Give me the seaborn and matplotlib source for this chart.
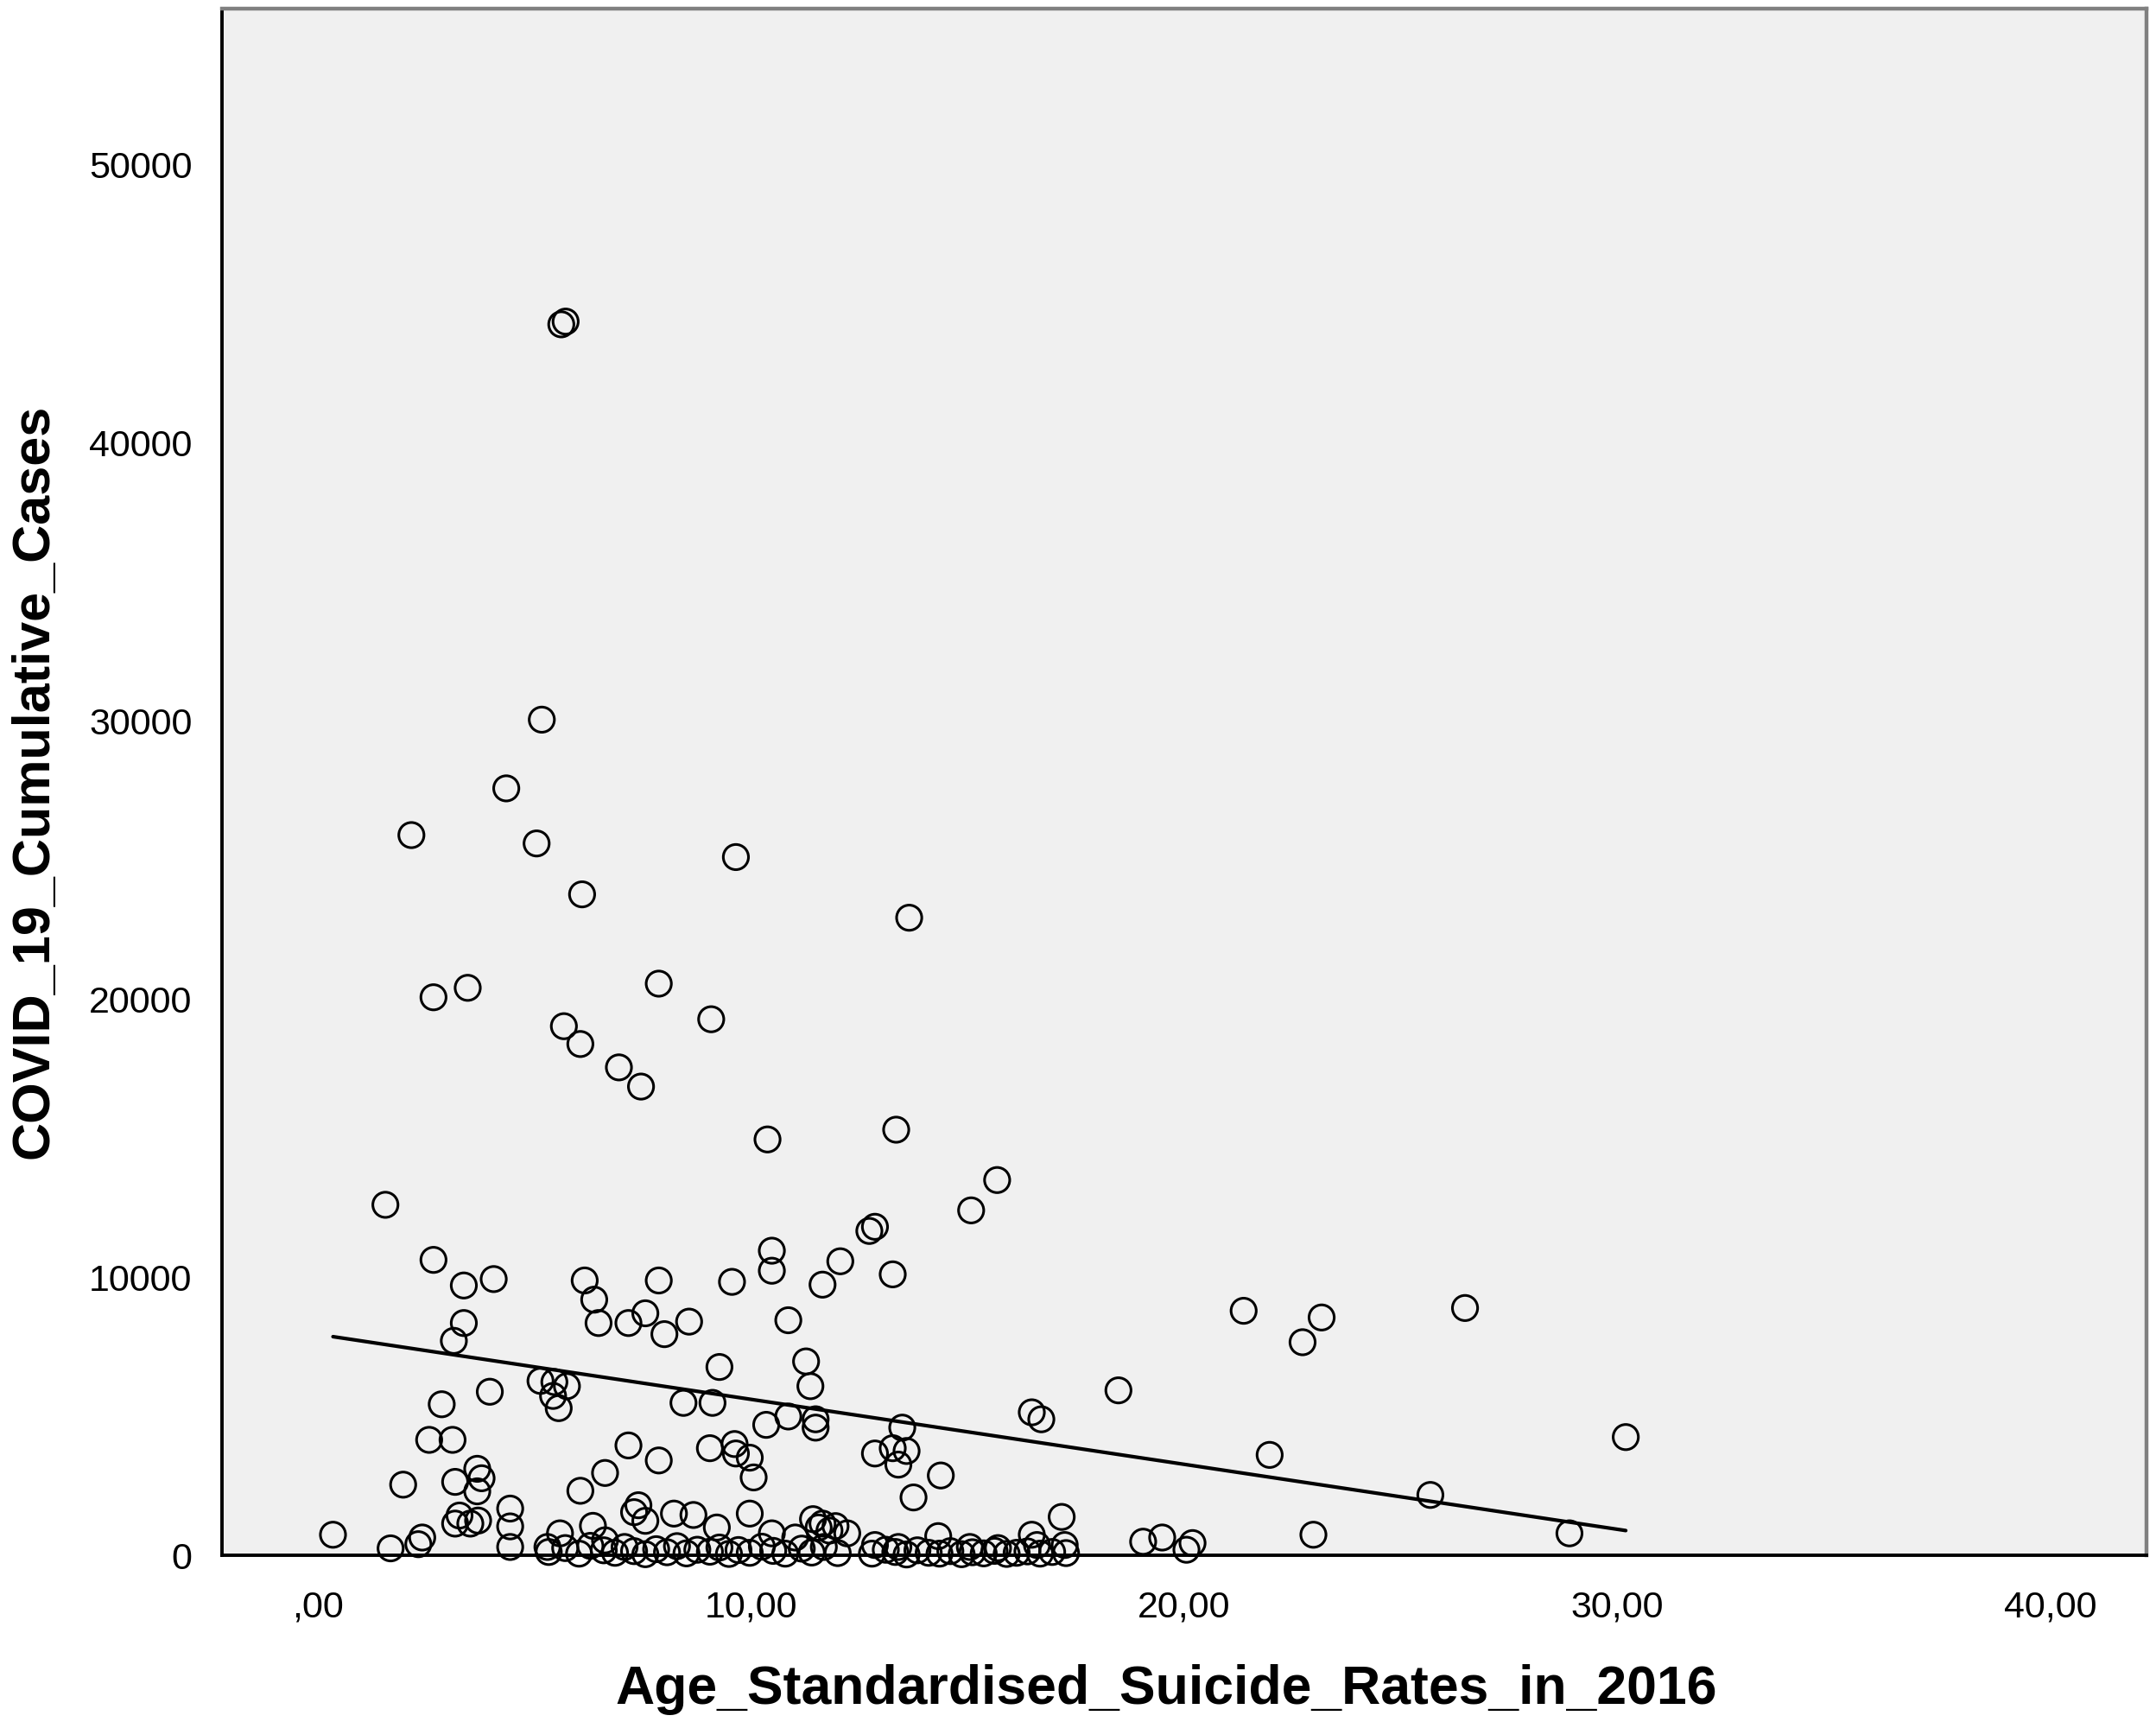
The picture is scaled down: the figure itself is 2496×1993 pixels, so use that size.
import numpy as np
import pandas as pd
import seaborn as sns
import matplotlib.pyplot as plt

# -----------------------------
# DATA
# -----------------------------
# countries spread above the floor
rate_upper = [5.62, 5.72, 5.17, 4.35, 2.16, 5.05, 9.65, 6.10, 13.65,
              2.67, 3.46, 7.87, 9.08, 5.68, 6.06, 6.95, 7.46,
              10.38, 13.35, 15.68, 15.08, 1.56,
              12.73, 12.86, 12.06, 10.48, 10.48, 2.67, 13.27,
              4.06, 3.37, 6.16, 7.87, 9.56, 11.65, 6.38,
              21.37, 26.48, 23.17, 22.73,
              3.37, 3.14, 6.48, 7.17, 7.56, 8.00, 8.57, 10.86,
              11.27, 11.37, 9.27, 18.48,
              5.14, 5.46, 5.75, 5.43, 5.56, 3.97, 2.86, 8.44, 9.11,
              10.86, 11.49, 11.49, 16.48, 16.70, 13.49, 10.35,
              2.57, 3.11, 7.17, 9.05, 9.62, 13.27, 13.59, 12.86,
              30.19, 21.97,
              3.68, 3.78, 9.97, 9.65, 13.40, 7.87, 6.63, 10.06, 14.38,
              1.97, 3.17, 3.68, 13.75, 6.06, 25.68,
              7.40, 7.30, 4.44, 3.27, 3.52, 3.17, 3.70, 8.22, 8.67, 9.97, 11.43, 11.65, 17.17,
              4.44, 6.35, 7.56, 9.21, 11.56, 11.81, 12.22, 11.95,
              0.35, 14.32, 16.48, 19.49, 19.05, 20.19, 22.98, 28.89,
              10.48, 11.02, 5.59, 6.63, 2.41, 2.32, 1.68, 4.44, 5.30,
              20.05, 16.60, 17.24, 12.86, 13.40, 15.05, 15.70]
cases_upper = [44250, 44350, 30040, 27570, 25890, 25590, 25100, 23760, 22920,
               20060, 20400, 20550, 19270, 19020, 18380, 17540, 16850,
               14950, 15300, 13490, 12400, 12600,
               11660, 11810, 10570, 10950, 10230, 10620, 10100,
               9930, 9700, 9880, 9880, 9830, 9730, 9190,
               8790, 8890, 8550, 7660,
               8350, 7710, 8350, 8350, 8700, 7950, 8400, 8450,
               6970, 6080, 6770, 5930,
               6270, 6230, 6080, 5730, 5290, 5880, 5430, 5480, 5480,
               4990, 4890, 4590, 5140, 4890, 4590, 4690,
               4150, 4150, 3950, 3850, 4000, 3850, 3750, 3660,
               4250, 3610,
               3110, 2770, 3510, 3660, 3260, 3410, 2960, 2800, 2870,
               2540, 2640, 2300, 2080, 2320, 2170,
               1800, 1550, 1680, 1430, 1140, 1140, 1250, 1500, 1450, 1500, 1300, 1140, 1380,
               1040, 1060, 1240, 1000, 1000, 890, 790, 1050,
               740, 690, 740, 640, 490, 440, 740, 790,
               790, 640, 790, 540, 640, 400, 250, 300, 300,
               200, 370, 370, 370, 300, 300, 260]

# countries sitting on the floor of the chart
rate_floor = [5.33, 5.71, 6.03, 6.29, 6.60, 6.86, 7.08, 7.30, 7.56, 7.81,
              8.06, 8.29, 8.51, 8.76, 9.05, 9.27, 9.49, 9.71, 9.97, 10.25,
              10.51, 10.79, 11.17, 11.40, 11.68, 12.00, 12.79, 13.11, 13.33, 13.59,
              13.84, 14.10, 14.35, 14.60, 14.86, 15.11, 15.37, 15.62, 15.90, 16.13,
              16.38, 16.67, 16.95, 17.27]
cases_floor = [120, 260, 60, 340, 180, 90, 300, 150, 40, 220,
               110, 330, 70, 200, 130, 280, 50, 190, 90, 310,
               160, 60, 240, 100, 300, 80, 60, 200, 120, 30,
               180, 90, 60, 150, 40, 110, 70, 160, 50, 90,
               140, 60, 120, 80]

# linear fit line as drawn by SPSS
fit_x = [0.35, 30.19]
fit_y = [7860, 890]

x_ticks = [0, 10, 20, 30, 40]
x_tick_labels = [",00", "10,00", "20,00", "30,00", "40,00"]
y_ticks = [0, 10000, 20000, 30000, 40000, 50000]

df = pd.DataFrame({
    'rate': rate_upper + rate_floor,
    'cases': cases_upper + cases_floor,
})
fit_df = pd.DataFrame({'rate': fit_x, 'cases': fit_y})

# -----------------------------
# PLOT
# -----------------------------
sns.set_style("white")
plt.rcParams['font.family'] = ['Liberation Sans', 'DejaVu Sans']
plt.rcParams['text.color'] = 'black'
plt.rcParams['axes.labelcolor'] = 'black'

fig = plt.figure(figsize=(24.96, 19.93), dpi=100)
ax = fig.add_axes([0.103, 0.0968, 0.8926, 0.8982])
ax.set_facecolor('#F0F0F0')

sns.scatterplot(data=df, x='rate', y='cases', ax=ax, s=440,
                facecolor='none', edgecolor='black', linewidth=2.2,
                clip_on=False, zorder=3)
sns.lineplot(data=fit_df, x='rate', y='cases', ax=ax, color='black',
             linewidth=3.0, zorder=4)

ax.set_xlim(-2.21, 42.21)
ax.set_ylim(0, 55600)
ax.set_xticks(x_ticks)
ax.set_xticklabels(x_tick_labels)
ax.set_yticks(y_ticks)
ax.set_yticklabels([str(v) for v in y_ticks])
ax.tick_params(axis='both', direction='out', length=21, width=2.2,
               color='black', labelsize=31, labelcolor='black')
ax.tick_params(axis='x', pad=8)
ax.tick_params(axis='y', pad=4)

for side in ['left', 'bottom']:
    ax.spines[side].set_color('black')
    ax.spines[side].set_linewidth(2.8)
for side in ['top', 'right']:
    ax.spines[side].set_visible(True)
    ax.spines[side].set_color('#808080')
    ax.spines[side].set_linewidth(3.2)

ax.set_xlabel('Age_Standardised_Suicide_Rates_in_2016', fontsize=45,
              fontweight='bold', color='black')
ax.set_ylabel('COVID_19_Cumulative_Cases', fontsize=44, fontweight='bold',
              color='black')
ax.xaxis.set_label_coords(0.4906, -0.0866)
ax.xaxis.label.set_va('center')
ax.yaxis.set_label_coords(-0.0974, 0.5006)
ax.yaxis.label.set_va('center')

fig.savefig('out.png', dpi=100, facecolor='white')
